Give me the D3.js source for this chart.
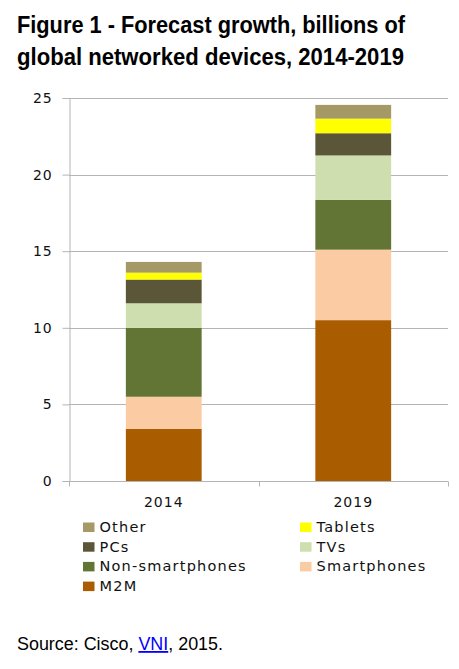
<!DOCTYPE html>
<html>
<head>
<meta charset="utf-8">
<script src="https://cdn.jsdelivr.net/npm/d3@7"></script>
<style>
    body { margin: 0; background: #fff; }
    svg { display: block; }
</style>
</head>
<body>
<div id="chart"></div>
<script>
// values, billions of devices
const years = ["2014", "2019"];
const seriesNames = ["M2M", "Smartphones", "Non-smartphones", "TVs", "PCs", "Tablets", "Other"];
const m2m = [3.4, 10.5];
const smartphones = [2.1, 4.6];
const nonSmartphones = [4.5, 3.25];
const tvs = [1.6, 2.9];
const pcs = [1.55, 1.45];
const tablets = [0.45, 0.95];
const other = [0.7, 0.9];
const yTicks = [0, 5, 10, 15, 20, 25];

const colors = {
    "M2M": "#aa5c00",
    "Smartphones": "#fbcba3",
    "Non-smartphones": "#627534",
    "TVs": "#cfdeae",
    "PCs": "#5c5638",
    "Tablets": "#ffff00",
    "Other": "#a59a66"
};

var width = 459,
    height = 669,
    margin = {top: 98, right: 11, bottom: 188, left: 69};

var svg = d3.select("#chart").append("svg")
    .attr("width", width)
    .attr("height", height);

// title
var title = svg.append("g").attr("font-family", "Liberation Sans, Arial, sans-serif")
    .attr("font-weight", "bold").attr("font-size", 23).attr("fill", "#000");
title.append("text").attr("x", 17).attr("y", 33)
    .attr("textLength", 388).attr("lengthAdjust", "spacingAndGlyphs")
    .text("Figure 1 - Forecast growth, billions of");
title.append("text").attr("x", 17).attr("y", 65)
    .attr("textLength", 387).attr("lengthAdjust", "spacingAndGlyphs")
    .text("global networked devices, 2014-2019");

var table = years.map((yr, i) => ({
    year: yr,
    "M2M": m2m[i],
    "Smartphones": smartphones[i],
    "Non-smartphones": nonSmartphones[i],
    "TVs": tvs[i],
    "PCs": pcs[i],
    "Tablets": tablets[i],
    "Other": other[i]
}));

var stacked = d3.stack().keys(seriesNames)(table);

var x0 = margin.left, x1 = width - margin.right;
var yBottom = height - margin.bottom;

var xScale = d3.scaleBand().domain(years).range([x0, x1])
    .paddingInner(0.6).paddingOuter(0.3);
var yScale = d3.scaleLinear().domain([0, 25]).range([yBottom, margin.top]);

// gridlines
svg.append("g").attr("class", "grid")
    .selectAll("line").data(yTicks).join("line")
    .attr("x1", x0).attr("x2", x1)
    .attr("y1", d => Math.round(yScale(d)) + 0.5)
    .attr("y2", d => Math.round(yScale(d)) + 0.5)
    .attr("stroke", "#b4b4b4");

// bars
svg.append("g").selectAll("g").data(stacked).join("g")
    .attr("fill", d => colors[d.key])
    .selectAll("rect").data(d => d).join("rect")
    .attr("x", d => xScale(d.data.year))
    .attr("width", xScale.bandwidth())
    .attr("y", d => yScale(d[1]))
    .attr("height", d => yScale(d[0]) - yScale(d[1]));

// y axis
var yAxis = d3.axisLeft(yScale).tickValues(yTicks).tickSize(7).tickPadding(10);
var yG = svg.append("g").attr("transform", `translate(${x0 + 0.5},0)`).call(yAxis);
yG.select(".domain").attr("stroke", "#b4b4b4");
yG.selectAll(".tick line").attr("stroke", "#b4b4b4");
yG.selectAll(".tick text").attr("font-family", "DejaVu Sans, sans-serif")
    .attr("font-size", 14).attr("letter-spacing", 0.8).attr("fill", "#111");

// x axis with Excel style ticks between categories
var step = (x1 - x0) / years.length;
var xG = svg.append("g").attr("transform", `translate(0,${Math.round(yBottom) + 0.5})`);
xG.selectAll("line").data(d3.range(years.length + 1)).join("line")
    .attr("x1", i => Math.round(x0 + i * step) + 0.5)
    .attr("x2", i => Math.round(x0 + i * step) + 0.5)
    .attr("y1", 0).attr("y2", 5)
    .attr("stroke", "#b4b4b4");
xG.selectAll("text").data(years).join("text")
    .attr("x", d => xScale(d) + xScale.bandwidth() / 2)
    .attr("y", 25)
    .attr("text-anchor", "middle")
    .attr("font-family", "DejaVu Sans, sans-serif")
    .attr("font-size", 14).attr("letter-spacing", 1).attr("fill", "#111")
    .text(d => d);

// legend, top series first, two columns
var legendOrder = seriesNames.slice().reverse();
var legend = svg.append("g").attr("font-family", "DejaVu Sans, sans-serif")
    .attr("font-size", 14.5).attr("letter-spacing", 1.2).attr("fill", "#111");
var item = legend.selectAll("g").data(legendOrder).join("g")
    .attr("transform", (d, i) => `translate(${i % 2 === 0 ? 83 : 300},${532 + Math.floor(i / 2) * 19.7})`);
item.append("rect").attr("x", 0).attr("y", -9.5).attr("width", 11.5).attr("height", 9.5)
    .attr("fill", d => colors[d]);
item.append("text").attr("x", 16.5).attr("y", 0).text(d => d);

// source line
var src = svg.append("text").attr("x", 17).attr("y", 650)
    .attr("font-family", "Liberation Sans, Arial, sans-serif")
    .attr("font-size", 18).attr("fill", "#000")
    .attr("textLength", 206).attr("lengthAdjust", "spacingAndGlyphs");
src.append("tspan").text("Source: Cisco, ");
src.append("tspan").attr("fill", "#0000ff").attr("text-decoration", "underline").text("VNI");
src.append("tspan").text(", 2015.");
</script>
</body>
</html>
